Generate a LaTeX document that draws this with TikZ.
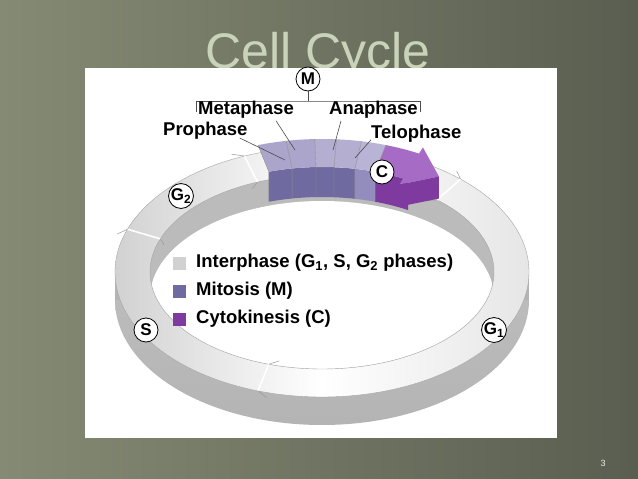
\documentclass[tikz,border=0pt]{standalone}
\usepackage{fontspec}
\setmainfont{Liberation Sans}
\usetikzlibrary{calc}
\begin{document}
\begin{tikzpicture}[x=1pt,y=1pt,
  lab/.style={font=\bfseries\fontsize{18.5}{18.5}\selectfont,inner sep=0pt},
  circ/.style={circle,draw=black,fill=white,line width=0.8pt,inner sep=0pt,minimum size=24pt,font=\bfseries\fontsize{17}{17}\selectfont},
  leader/.style={draw=black!70,line width=0.6pt},
  gap/.style={draw=white,line width=1.6pt},
  sq/.style={minimum size=13pt,inner sep=0pt}]
\definecolor{bgl}{HTML}{858A74}\definecolor{bgd}{HTML}{5A5E50}
\definecolor{ringtop}{HTML}{E6E6E6}\definecolor{ringside}{HTML}{B4B4B4}
\definecolor{mtop}{HTML}{ABA5CB}\definecolor{mfront}{HTML}{6F6AA0}
\definecolor{ttop}{HTML}{B9B4D6}\definecolor{tfront}{HTML}{938DBE}
\definecolor{ctop}{HTML}{A66BC4}\definecolor{cfront}{HTML}{7E3A9E}
\definecolor{titlec}{HTML}{C9D3BA}
\useasboundingbox (0,0) rectangle (638,-479);
\shade[left color=bgl,right color=bgd] (0,0) rectangle (638,-479);
\node[font=\fontsize{50}{50}\selectfont,text=titlec,draw=none] (title) at (318,-56) {Cell Cycle};
\fill[white] (85,-68) rectangle (557,-438);
% ring
\coordinate (c) at (322,-272);
\shade[top color=ringside!80,bottom color=ringside] ($(c)+(0,-28)$) ellipse[x radius=207,y radius=125];
\fill[ringside] ($(c)+(-207,0)$) rectangle ($(c)+(207,-28)$);
\shade[left color=ringtop!80!gray, right color=ringtop, middle color=white] (c) ellipse[x radius=207,y radius=125];
\draw[black!35,line width=0.4pt] (c) ellipse[x radius=207,y radius=125];
\fill[ringside!90] (c) ellipse[x radius=172,y radius=97];
\begin{scope}
\clip (c) ellipse[x radius=172,y radius=97];
\fill[white] ($(c)+(0,-26)$) ellipse[x radius=172,y radius=97];
\end{scope}
\draw[black!35,line width=0.4pt] (c) ellipse[x radius=172,y radius=97];
% gaps between interphase arrows
\foreach \a in {112,160,252,48}{
  \draw[gap] ($(c)+(\a:172 and 97)$) -- ($(c)+(\a:207 and 125)$);
  \draw[black!40,line width=0.5pt] ($(c)+(\a+3:165 and 92)$) -- ($(c)+(\a:172 and 97)$);
  \draw[black!40,line width=0.5pt] ($(c)+(\a:207 and 125)$) -- ($(c)+(\a+3:214 and 130)$);
}
% mitosis blocks
\newcommand{\blk}[4]{%
  \fill[#4] ($(c)+(0,8)+(#1:172 and 97)$) arc[start angle=#1,end angle=#2,x radius=172,y radius=97] -- ++(0,-30) arc[start angle=#2,end angle=#1,x radius=172,y radius=97] -- cycle;
  \fill[#3] ($(c)+(0,8)+(#1:207 and 125)$) arc[start angle=#1,end angle=#2,x radius=207,y radius=125] -- ($(c)+(0,8)+(#2:172 and 97)$) arc[start angle=#2,end angle=#1,x radius=172,y radius=97] -- cycle;
  \draw[black!45,line width=0.4pt] ($(c)+(0,8)+(#1:207 and 125)$) -- ($(c)+(0,8)+(#1:172 and 97)$) -- ++(0,-30);}
\blk{108}{100}{mtop}{mfront}
\blk{100}{92}{mtop}{mfront}
\blk{92}{86}{mtop!90}{mfront}
\blk{86}{79}{mtop!90}{mfront}
\blk{79}{72}{ttop}{tfront}
\blk{72}{60}{ctop}{cfront}
\fill[ctop] ($(c)+(0,8)+(62:215 and 132)$) -- ($(c)+(0,8)+(52:190 and 111)$) -- ($(c)+(0,8)+(62:165 and 90)$) -- cycle;
\fill[cfront] ($(c)+(0,8)+(62:165 and 90)$) -- ($(c)+(0,8)+(52:190 and 111)$) -- ++(0,-22) -- ($(c)+(0,-14)+(62:165 and 90)$) -- cycle;
% labels
\node[circ] (M) at (308,-79) {M};
\coordinate (bl) at (196,-112);\coordinate (br) at (420,-112);
\draw[black!70,line width=0.6pt] (bl) |- (M.south |- 0,-101) -| (br);
\draw[black!70,line width=0.6pt] (M.south) -- (M.south |- 0,-101);
\node[lab,anchor=west] (meta) at (198,-110) {Metaphase};
\node[lab,anchor=west] (ana) at (329,-110) {Anaphase};
\node[lab,anchor=west] (pro) at (163,-131) {Prophase};
\node[lab,anchor=west] (telo) at (371,-134) {Telophase};
\coordinate (pp) at (285,-160);\coordinate (mp) at (295,-150);
\coordinate (ap) at (333,-150);\coordinate (tp) at (355,-158);
\draw[leader] (pro.east) ++(-8,-7) -- (pp);
\draw[leader] (meta.south east) ++(-18,-2) -- (mp);
\draw[leader] (ana.south west) ++(12,-2) -- (ap);
\draw[leader] (telo.south west) ++(0,3) -- (tp);
\node[circ] (C) at (382,-172) {C};
\node[circ] (G2) at (181,-196) {G\textsubscript{2}};
\node[circ] (S) at (146,-330) {S};
\node[circ] (G1) at (494,-330) {G\textsubscript{1}};
% legend
\node[sq,fill=black!18] (l1) at (179,-263) {};
\node[sq,fill=mfront] (l2) at (179,-291) {};
\node[sq,fill=cfront] (l3) at (179,-319) {};
\node[lab,anchor=west] (t1) at (196,-263) {Interphase (G\textsubscript{1}, S, G\textsubscript{2} phases)};
\node[lab,anchor=west] (t2) at (196,-291) {Mitosis (M)};
\node[lab,anchor=west] (t3) at (196,-319) {Cytokinesis (C)};
\node[text=white!85!gray,font=\fontsize{9}{9}\selectfont] (pg) at (603,-463) {3};
\end{tikzpicture}
\end{document}
